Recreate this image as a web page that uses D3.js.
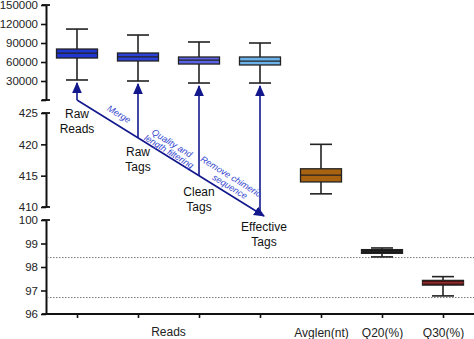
<!DOCTYPE html>
<html>
<head>
<meta charset="utf-8">
<script src="https://cdn.jsdelivr.net/npm/d3@7"></script>
<style>
  html, body { margin: 0; padding: 0; background: #fff; }
  svg { display: block; font-family: Arial, "Liberation Sans", sans-serif; }
</style>
</head>
<body>
<svg id="chart" width="474" height="339"></svg>
<script>
// Categories along the x axis
const categories = ["Raw Reads", "Raw Tags", "Clean Tags", "Effective Tags", "Avglen(nt)", "Q20(%)", "Q30(%)"];
// Which y segment each category belongs to
const panels = ["reads", "reads", "reads", "reads", "len", "pct", "pct"];
// Five-number summaries: whisker low, Q1, median, Q3, whisker high
const lowVals  = [31600, 30000, 26800, 26800, 412.1, 98.43, 96.77];
const q1Vals   = [66300, 61600, 56800, 55300, 414.0, 98.58, 97.23];
const medVals  = [74000, 68000, 63000, 61500, 415.1, 98.66, 97.33];
const q3Vals   = [80500, 74200, 67900, 67900, 416.1, 98.74, 97.43];
const highVals = [112000, 102600, 91600, 90000, 420.0, 98.81, 97.59];
const boxColors = ["#2136cf", "#2b40d6", "#5a63e3", "#6cb2ea", "#a9620f", "#111111", "#560d0d"];

// Axis tick values for the three stacked segments
const readsTicks = [0, 30000, 60000, 90000, 120000, 150000];
const lenTicks = [410, 415, 420, 425];
const pctTicks = [96, 97, 98, 99, 100];
// Reference levels drawn as dotted lines
const refLines = [98.4, 96.7];

// x-axis labels: one shared label for the four read-count boxes
const groupLabel = "Reads";
const xLabels = ["", "", "", "", "Avglen(nt)", "Q20(%)", "Q30(%)"];

// Processing-flow annotation text
const stageLabels = [["Raw", "Reads"], ["Raw", "Tags"], ["Clean", "Tags"], ["Effective", "Tags"]];
const stepLabels = [
  { at: 119, off: -12, text: "Merge" },
  { at: 172, off: -15.8, text: "Quality and" },
  { at: 169, off: -5.6, text: "length filtering" },
  { at: 231, off: -19.2, text: "Remove chimeric" },
  { at: 230, off: -8.4, text: "sequence" }
];

const svg = d3.select("#chart");
const axisX = 46;

const x = d3.scalePoint().domain(categories).range([77, 443]);
const yScales = {
  reads: d3.scaleLinear().domain([0, 150000]).range([100, 5]),
  len: d3.scaleLinear().domain([410, 425]).range([207, 113]),
  pct: d3.scaleLinear().domain([96, 100]).range([314, 220])
};

// ---- Y axes (three segments) ----
function drawAxis(scale, ticks, fmt) {
  const g = svg.append("g").attr("transform", `translate(${axisX},0)`)
    .call(d3.axisLeft(scale).tickValues(ticks).tickSize(5).tickSizeOuter(0).tickPadding(3).tickFormat(fmt));
  g.select(".domain").attr("stroke", "#111").attr("stroke-width", 2);
  g.selectAll(".tick line").attr("stroke", "#111").attr("stroke-width", 1.6);
  g.selectAll(".tick text").attr("font-size", "11.5px").attr("fill", "#222")
    .attr("font-family", "Arial, 'Liberation Sans', sans-serif");
  // end caps crossing the axis line
  scale.range().forEach(r => {
    g.append("line").attr("x1", -4).attr("x2", 4).attr("y1", r).attr("y2", r)
      .attr("stroke", "#111").attr("stroke-width", 1.8);
  });
}
drawAxis(yScales.reads, readsTicks, d => d === 0 ? "" : d3.format("d")(d));
drawAxis(yScales.len, lenTicks, d3.format("d"));
drawAxis(yScales.pct, pctTicks, d3.format("d"));

// ---- Dotted reference lines ----
svg.append("g").selectAll("line").data(refLines).join("line")
  .attr("x1", axisX + 1).attr("x2", 474)
  .attr("y1", d => yScales.pct(d)).attr("y2", d => yScales.pct(d))
  .attr("stroke", "#777").attr("stroke-width", 1).attr("stroke-dasharray", "1.5,1.5");

// ---- X axis ----
const xAxisY = yScales.pct(96);
const xg = svg.append("g").attr("transform", `translate(0,${xAxisY})`)
  .call(d3.axisBottom(x).tickSize(4).tickSizeOuter(0).tickFormat((d, i) => xLabels[i]).tickPadding(10));
xg.select(".domain").attr("d", `M${axisX},0H474`).attr("stroke", "#111").attr("stroke-width", 2);
xg.selectAll(".tick line").attr("stroke", "#111").attr("stroke-width", 1.6);
xg.selectAll(".tick text").attr("font-size", "12px").attr("fill", "#222")
  .attr("font-family", "Arial, 'Liberation Sans', sans-serif");
svg.append("text")
  .attr("x", (x(categories[0]) + x(categories[3])) / 2).attr("y", xAxisY + 22)
  .attr("text-anchor", "middle").attr("font-size", "12px").attr("fill", "#222")
  .text(groupLabel);

// ---- Boxes ----
const boxW = 41, capW = 22;
const boxData = categories.map((c, i) => ({
  cat: c, y: yScales[panels[i]], lo: lowVals[i], q1: q1Vals[i], med: medVals[i],
  q3: q3Vals[i], hi: highVals[i], color: boxColors[i]
}));
const bg = svg.append("g").selectAll("g").data(boxData).join("g")
  .attr("transform", d => `translate(${x(d.cat)},0)`);
bg.append("line").attr("x1", 0).attr("x2", 0)
  .attr("y1", d => d.y(d.hi)).attr("y2", d => d.y(d.lo))
  .attr("stroke", "#222").attr("stroke-width", 1.6);
bg.append("line").attr("x1", -capW / 2).attr("x2", capW / 2)
  .attr("y1", d => d.y(d.hi)).attr("y2", d => d.y(d.hi))
  .attr("stroke", "#222").attr("stroke-width", 1.6);
bg.append("line").attr("x1", -capW / 2).attr("x2", capW / 2)
  .attr("y1", d => d.y(d.lo)).attr("y2", d => d.y(d.lo))
  .attr("stroke", "#222").attr("stroke-width", 1.6);
bg.append("rect").attr("x", -boxW / 2).attr("width", boxW)
  .attr("y", d => d.y(d.q3)).attr("height", d => d.y(d.q1) - d.y(d.q3))
  .attr("fill", d => d.color).attr("stroke", "#222").attr("stroke-width", 1.3);
bg.append("line").attr("x1", -boxW / 2).attr("x2", boxW / 2)
  .attr("y1", d => d.y(d.med)).attr("y2", d => d.y(d.med))
  .attr("stroke", (d, i) => i === 6 ? "#8a3030" : "#222").attr("stroke-width", 1.3);

// ---- Processing-flow arrows ----
const navy = "#12188c";
const defs = svg.append("defs");
defs.append("marker").attr("id", "head").attr("viewBox", "0 0 10 10")
  .attr("refX", 9).attr("refY", 5).attr("markerWidth", 11).attr("markerHeight", 11)
  .attr("markerUnits", "userSpaceOnUse").attr("orient", "auto")
  .append("path").attr("d", "M0,0.6L10,5L0,9.4Z").attr("fill", navy);

const x0 = x(categories[0]), y0 = 100;
const xEnd = x(categories[3]) + 4, yEnd = 216;
const slope = (yEnd - y0) / (xEnd - x0);
const lineY = xx => y0 + (xx - x0) * slope;
const angle = Math.atan(slope) * 180 / Math.PI;

svg.append("line").attr("x1", x0).attr("y1", y0).attr("x2", xEnd).attr("y2", yEnd)
  .attr("stroke", navy).attr("stroke-width", 1.6).attr("marker-end", "url(#head)");

boxData.slice(0, 4).forEach(d => {
  const cx = x(d.cat);
  svg.append("line").attr("x1", cx).attr("x2", cx)
    .attr("y1", lineY(cx)).attr("y2", d.y(d.lo) + 3)
    .attr("stroke", navy).attr("stroke-width", 1.6).attr("marker-end", "url(#head)");
});

// Stage names under each arrow
const stagePos = [
  { x: x(categories[0]), y: 118 },
  { x: x(categories[1]), y: 156 },
  { x: x(categories[2]), y: 196 },
  { x: x(categories[3]) + 4, y: 231 }
];
stageLabels.forEach((lines, i) => {
  const t = svg.append("text").attr("text-anchor", "middle").attr("font-size", "12px").attr("fill", "#111");
  lines.forEach((s, j) => t.append("tspan").attr("x", stagePos[i].x).attr("y", stagePos[i].y + j * 14.5).text(s));
});

// Step names along the diagonal
stepLabels.forEach(s => {
  svg.append("text")
    .attr("transform", `translate(${s.at},${lineY(s.at) + s.off}) rotate(${angle})`)
    .attr("text-anchor", "middle").attr("dy", "0.35em")
    .attr("font-size", "9px").attr("font-style", "italic").attr("fill", "#3447cf")
    .text(s.text);
});
</script>
</body>
</html>
